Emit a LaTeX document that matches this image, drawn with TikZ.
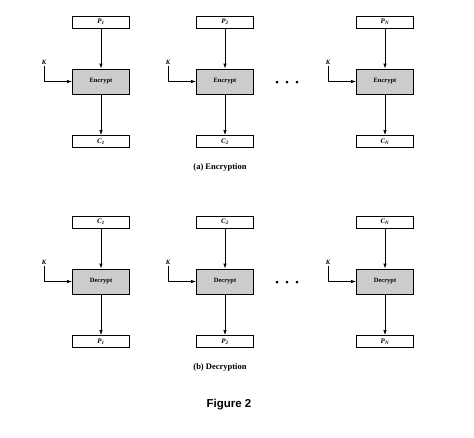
\documentclass[tikz,border=0pt]{standalone}
\usepackage{fontspec}
\setmainfont{Liberation Serif}
\newfontfamily\figfont{Liberation Sans}
\usetikzlibrary{arrows.meta}
\newcommand{\lbl}[2]{\textit{#1}\textsubscript{\textit{#2}}}
\begin{document}
\begin{tikzpicture}[x=1pt,y=-1pt,
  io/.style={draw,line width=0.9pt,minimum width=57pt,minimum height=12pt,inner sep=0pt,font=\fontsize{7}{8}\selectfont\bfseries},
  op/.style={draw,line width=1pt,fill=black!20,minimum width=57pt,minimum height=25pt,inner sep=0pt,font=\fontsize{6.5}{7}\selectfont\bfseries},
  klab/.style={inner sep=0pt,font=\fontsize{6.5}{7}\selectfont\bfseries\itshape},
  arr/.style={line width=0.7pt,-{Latex[length=5pt,width=3.5pt]}},
  dotmark/.style={fill=black,circle,inner sep=0pt,minimum size=3pt},
  captxt/.style={font=\fontsize{8.5}{10}\selectfont\bfseries}]
\useasboundingbox (0,0) rectangle (474,437);
% --- Encryption ---
\foreach \cx/\i/\ilab/\olab in {101/1/{\lbl{P}{1}}/{\lbl{C}{1}}, 225/2/{\lbl{P}{2}}/{\lbl{C}{2}}, 385/3/{\lbl{P}{N}}/{\lbl{C}{N}}}{
  \node[io] (ein\i) at (\cx,22) {\ilab};
  \node[op] (enc\i) at (\cx,81.5) {Encrypt};
  \node[io] (eout\i) at (\cx,141.5) {\olab};
  \draw[arr] (ein\i) -- (enc\i);
  \draw[arr] (enc\i) -- (eout\i);
  \node[klab] (ek\i) at (\cx-57,62) {K};
  \draw[arr] (ek\i.south) ++(0,2) |- (enc\i.west);
}
\node[dotmark] (ed1) at (277,82) {};
\node[dotmark] (ed2) at (287,82) {};
\node[dotmark] (ed3) at (297,82) {};
\node[captxt] (capa) at (220,167) {(a) Encryption};
% --- Decryption ---
\foreach \cx/\i/\ilab/\olab in {101/1/{\lbl{C}{1}}/{\lbl{P}{1}}, 225/2/{\lbl{C}{2}}/{\lbl{P}{2}}, 385/3/{\lbl{C}{N}}/{\lbl{P}{N}}}{
  \node[io] (din\i) at (\cx,222) {\ilab};
  \node[op] (dec\i) at (\cx,281.5) {Decrypt};
  \node[io] (dout\i) at (\cx,341.5) {\olab};
  \draw[arr] (din\i) -- (dec\i);
  \draw[arr] (dec\i) -- (dout\i);
  \node[klab] (dk\i) at (\cx-57,262) {K};
  \draw[arr] (dk\i.south) ++(0,2) |- (dec\i.west);
}
\node[dotmark] (dd1) at (277,282) {};
\node[dotmark] (dd2) at (287,282) {};
\node[dotmark] (dd3) at (297,282) {};
\node[captxt] (capb) at (220,367) {(b) Decryption};
\node[font=\figfont\fontsize{11.5}{13}\selectfont\bfseries] (fig) at (229,405) {Figure 2};
\end{tikzpicture}
\end{document}
